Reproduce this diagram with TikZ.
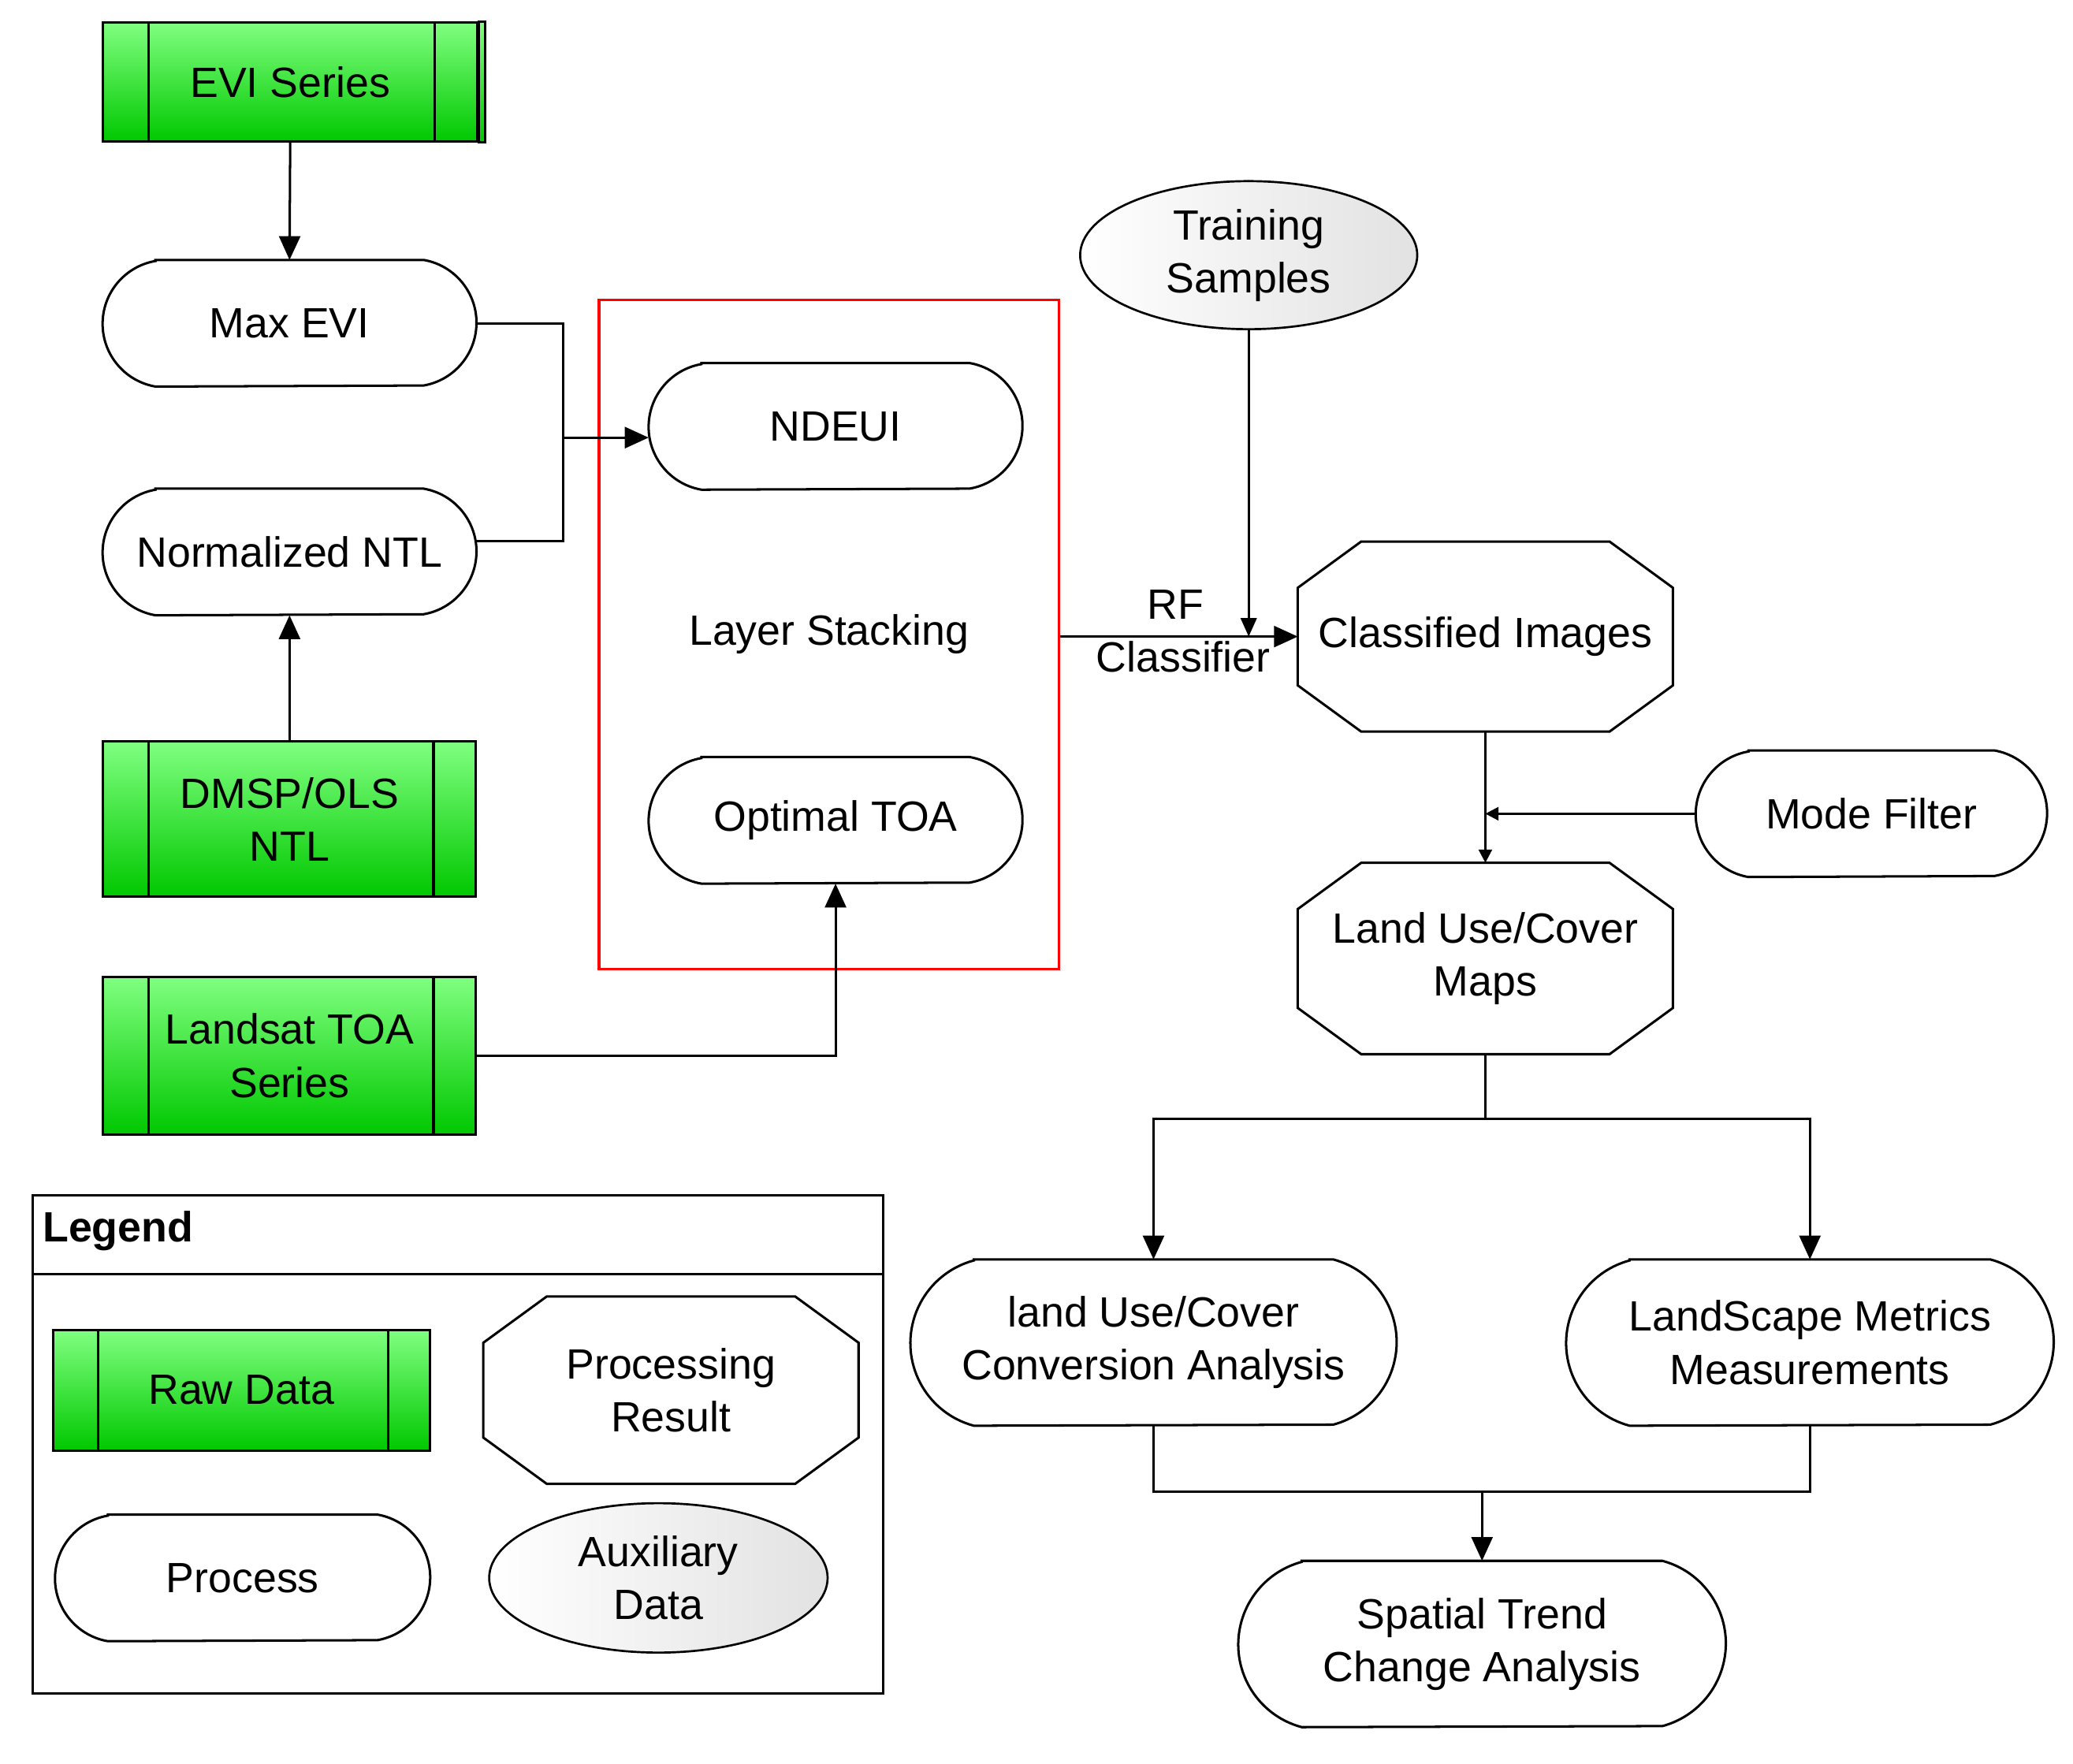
\documentclass[tikz,border=0pt]{standalone}
\usepackage{fontspec}
\setmainfont{Liberation Sans}
\usetikzlibrary{shapes.geometric,calc,arrows.meta}
\definecolor{gtop}{RGB}{128,255,128}
\definecolor{gbot}{RGB}{0,200,0}
\definecolor{auxr}{RGB}{226,226,226}
\tikzset{
  every node/.style={font=\fontsize{16}{20}\selectfont, align=center, inner sep=0pt},
  sz/.style 2 args={minimum width={#1*0.5pt}, minimum height={#2*0.5pt}},
  raw/.style={rectangle, draw, line width=0.9pt, top color=gtop, bottom color=gbot},
  aux/.style={ellipse, draw, line width=0.8pt, left color=white, right color=auxr},
  outl/.style={line width=0.9pt},
  conn/.style={line width=0.9pt},
  arr/.style={conn, -{Triangle[length=9pt,width=8pt]}},
  marr/.style={conn, -{Triangle[length=7pt,width=6pt]}},
  sarr/.style={conn, -{Triangle[length=5pt,width=5pt]}},
}
\newcommand\procoutline[3]{%
  \pgfmathsetmacro\pR{0.5*((#2)*(#2)+(#3)*(#3))/(2*(#2))}%
  \pgfmathsetmacro\pA{asin((#3)*(2*(#2))/((#2)*(#2)+(#3)*(#3)))}%
  \draw[outl] ($(#1.north west)+(#2,0)$) -- ($(#1.north east)+(-#2,0)$)
    arc[start angle=\pA, end angle=-\pA, radius=\pR pt]
    -- ($(#1.south west)+(#2,0)$)
    arc[start angle=180+\pA, end angle=180-\pA, radius=\pR pt] -- cycle;}
\newcommand\octoutline[3]{%
  \draw[outl] ($(#1.north west)+(#2,0)$) -- ($(#1.north east)+(-#2,0)$)
    -- ($(#1.north east)+(0,#3)$) -- ($(#1.south east)+(0,-#3)$)
    -- ($(#1.south east)+(-#2,0)$) -- ($(#1.south west)+(#2,0)$)
    -- ($(#1.south west)+(0,-#3)$) -- ($(#1.north west)+(0,#3)$) -- cycle;}
\newcommand\rawbars[3]{%
  \draw[outl] ($(#1.north west)+(#2,0)$) -- ($(#1.south west)+(#2,0)$);
  \draw[outl] ($(#1.north east)+(-#3,0)$) -- ($(#1.south east)+(-#3,0)$);}
\begin{document}
\begin{tikzpicture}[x=0.5pt,y=-0.5pt]
\useasboundingbox (0,0) rectangle (1568,1334);

% ---- raw data boxes
\node[raw, sz={283}{90}] (evi) at (219.5,62) {EVI Series};
\draw[outl, top color=gtop, bottom color=gbot] (evi.north east) rectangle ($(evi.south east)+(5,0)$);
\rawbars{evi}{35}{33}
\node[raw, sz={282}{117}] (dmsp) at (219,619.5) {DMSP/OLS\\NTL};
\rawbars{dmsp}{35}{33}
\node[raw, sz={282}{119}] (landsat) at (219,798.5) {Landsat TOA\\Series};
\rawbars{landsat}{35}{33}

% ---- process nodes
\node[sz={282}{95}] (maxevi) at (219,244.5) {Max EVI};
\procoutline{maxevi}{40}{47.5}
\node[sz={282}{95}] (nntl) at (219,417.5) {Normalized NTL};
\procoutline{nntl}{40}{47.5}
\node[sz={282}{95}] (ndeui) at (632,322.5) {NDEUI};
\procoutline{ndeui}{40}{47.5}
\node[sz={282}{95}] (optoa) at (632,620.5) {Optimal TOA};
\procoutline{optoa}{40}{47.5}
\node[sz={265}{95}] (mode) at (1415.5,615.5) {Mode Filter};
\procoutline{mode}{40}{47.5}
\node[sz={367}{125}] (conv) at (872.5,1015.5) {land Use/Cover\\Conversion Analysis};
\procoutline{conv}{48}{62.5}
\node[sz={368}{125}] (lsm) at (1369,1015.5) {LandScape Metrics\\Measurements};
\procoutline{lsm}{48}{62.5}
\node[sz={368}{125}] (spatial) at (1121,1243.5) {Spatial Trend\\Change Analysis};
\procoutline{spatial}{48}{62.5}

% ---- layer stacking box
\node[draw=red, line width=1pt, sz={348}{506}] (stack) at (627,480) {Layer Stacking};

% ---- auxiliary data
\node[aux, sz={255}{112}] (train) at (944.5,193) {Training\\Samples};

% ---- processing results
\node[sz={283}{143}] (classified) at (1123.5,481.5) {Classified Images};
\octoutline{classified}{48}{35}
\node[sz={283}{144}] (lucmaps) at (1123.5,725) {Land Use/Cover\\Maps};
\octoutline{lucmaps}{48}{35}

% ---- connectors
\draw[arr] (evi.south) -- (maxevi.north);
\draw[arr] (dmsp.north) -- (nntl.south);
\coordinate (j1) at (426,331);
\draw[conn] (maxevi.east) -| (j1);
\draw[conn] ([yshift=4.25pt]nntl.east) -| (j1);
\draw[arr] (j1) -- (ndeui.west |- j1);
\draw[arr] (landsat.east) -| (optoa.south);
\draw[arr] (stack.east |- classified.west) -- (classified.west);
\node (rf) at (889,457) {RF};
\node (clf) at (895,497) {Classifier};
\draw[marr] (train.south) -- (train.south |- classified.west);
\draw[sarr] (classified.south) -- (lucmaps.north);
\draw[sarr] (mode.west) -- (lucmaps.north |- mode.west);
\coordinate (j2) at (1123.5,846);
\draw[conn] (lucmaps.south) -- (j2);
\draw[arr] (j2) -| (conv.north);
\draw[arr] (j2) -| (lsm.north);
\coordinate (j3) at (1121,1128);
\draw[conn] (conv.south) |- (j3);
\draw[conn] (lsm.south) |- (j3);
\draw[arr] (j3) -- (spatial.north);

% ---- legend
\node[draw, line width=0.9pt, sz={643}{377}] (legbox) at (346.5,1092.5) {};
\coordinate (hdr) at (0,964);
\draw[outl] (legbox.west |- hdr) -- (legbox.east |- hdr);
\node[anchor=west, font=\fontsize{16}{20}\selectfont\bfseries] (legtitle) at (32,931) {Legend};
\node[raw, sz={285}{91}] (rawleg) at (182.5,1051.5) {Raw Data};
\rawbars{rawleg}{35}{32}
\node[sz={283}{141}] (procres) at (507.5,1051.5) {Processing\\Result};
\octoutline{procres}{48}{35}
\node[sz={283}{95}] (procleg) at (183.5,1193.5) {Process};
\procoutline{procleg}{40}{47.5}
\node[aux, sz={256}{113}] (auxleg) at (498,1193.5) {Auxiliary\\Data};
\end{tikzpicture}
\end{document}
